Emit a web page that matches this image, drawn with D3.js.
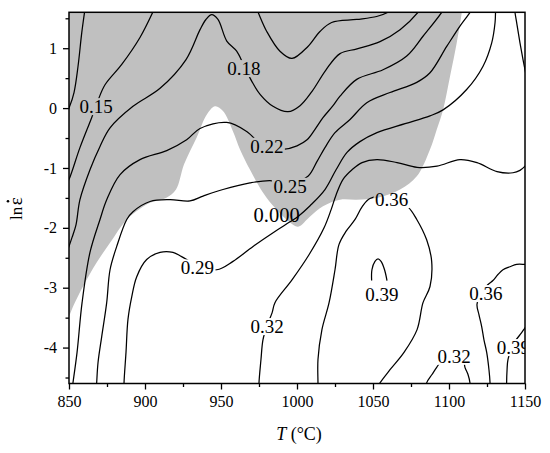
<!DOCTYPE html>
<html><head><meta charset="utf-8">
<script src="https://cdn.jsdelivr.net/npm/d3@7"></script>
<style>body{margin:0;background:#fff}</style>
</head><body>
<svg id="chart" width="550" height="453"></svg>
<script>
// ---- axis ticks ----
const xTicks = [850, 900, 950, 1000, 1050, 1100, 1150];
const xMinorTicks = [875, 925, 975, 1025, 1075, 1125];
const yTicks = [-4, -3, -2, -1, 0, 1];
const yMinorTicks = [-4.5, -3.5, -2.5, -1.5, -0.5, 0.5, 1.5];

// ---- instability region (grey), [T, ln strain rate] ----
const unstableRegion = [[848,1.8],[1109,1.8],[1108.4,1.6],[1105.1,1.09],[1100.7,0.53],[1096.1,-0.03],[1091.9,-0.36],[1087.5,-0.69],[1078.8,-1.14],[1067.8,-1.36],[1052.4,-1.50],[1039.3,-1.53],[1028.3,-1.53],[1017.1,-1.64],[1008.6,-1.81],[1000.7,-1.98],[995.4,-1.91],[986.6,-1.70],[977.6,-1.41],[969.1,-1.03],[962.5,-0.69],[957.9,-0.39],[951.3,-0.05],[946.1,0.03],[940.6,-0.11],[934,-0.49],[925.7,-0.94],[920.4,-1.36],[913.8,-1.50],[903.3,-1.58],[896.7,-1.68],[888,-1.86],[877,-2.25],[868.2,-2.58],[859.2,-2.98],[852.6,-3.32],[850,-3.48],[848,-3.55]];

// ---- efficiency contour lines, [T, ln strain rate] ----
const line012 = [[860.5,1.65],[858.4,1.26],[855.9,0.69],[853.3,0.26],[850.3,0.02],[849,-0.05]];
const line015 = [[906,1.65],[896.7,1.18],[884.7,0.73],[873.7,0.39],[869.1,0.13],[864.9,-0.16],[857.2,-0.66],[850,-1.19],[848.5,-1.25]];
const line015top = [[973.3,1.66],[974.4,1.6],[980.1,1.28],[988.8,0.95],[996.7,0.83],[1007.2,1.03],[1015.1,1.28],[1022.8,1.43],[1039.3,1.48],[1052.4,1.53],[1059.9,1.6],[1062,1.64]];
const line018 = [[848,-2.45],[850,-2.31],[852,-2.16],[854.6,-1.95],[857.2,-1.53],[863.8,-1.03],[870.4,-0.64],[877,-0.33],[892.1,0.03],[909.9,0.33],[927,0.81],[936.2,1.31],[940.1,1.48],[943.9,1.56],[948,1.48],[953.8,1.12],[960.3,0.95],[965.1,0.71],[970.2,0.45],[975.7,0.23],[984.2,0.03],[994.1,-0.06],[1002,0.04],[1009.9,0.28],[1019.1,0.64],[1028.3,0.91],[1039.5,0.99],[1054.6,1.11],[1067.8,1.31],[1079.6,1.6],[1081.6,1.68]];
const line022 = [[852,-4.70],[852.6,-4.59],[855.3,-4.08],[858.6,-3.25],[863.8,-2.41],[870.4,-1.86],[874.8,-1.53],[883.6,-1.11],[896.7,-0.86],[914.3,-0.71],[927.4,-0.53],[936.2,-0.34],[953.8,-0.24],[966.9,-0.39],[979,-0.66],[990.8,-0.69],[1000,-0.63],[1006.6,-0.53],[1012.5,-0.33],[1017.1,-0.16],[1023.7,0.04],[1028.3,0.2],[1039.3,0.48],[1056.6,0.64],[1072.2,0.87],[1082.9,1.2],[1095.2,1.6],[1097.4,1.70]];
const line025 = [[867.8,-4.74],[868.2,-4.59],[869.1,-4.25],[871.5,-3.82],[874.8,-3.25],[877,-2.70],[881.4,-2.31],[888,-1.86],[892.1,-1.73],[903.3,-1.56],[916.4,-1.53],[929.6,-1.55],[938.2,-1.47],[951.3,-1.36],[969.1,-1.25],[982.2,-1.21],[995.4,-1.26],[1007.2,-1.14],[1013.2,-0.89],[1018.4,-0.66],[1025,-0.41],[1034.9,-0.19],[1045.9,0.09],[1061.2,0.26],[1078.8,0.43],[1087.5,0.59],[1098.5,1.03],[1107.2,1.37],[1113.8,1.6],[1115.8,1.70]];
const line029 = [[886.2,-4.74],[886.2,-4.59],[887.5,-4.08],[888.8,-3.53],[891.3,-3.15],[894.5,-2.82],[901.1,-2.53],[909.9,-2.41],[918.4,-2.41],[924.1,-2.48],[934.9,-2.63],[947.2,-2.70],[957.9,-2.56],[971.1,-2.31],[985.5,-2.06],[995.4,-1.90],[1000.7,-1.81],[1008.6,-1.63],[1018.4,-1.36],[1025.7,-1.03],[1032.9,-0.74],[1041.4,-0.56],[1052.6,-0.41],[1071.1,-0.26],[1087.5,-0.13],[1096.1,-0.03],[1111.6,0.31],[1122.4,0.70],[1128.1,1.09],[1130.3,1.43],[1130.6,1.61],[1130.6,1.70]];
const line032 = [[975,-4.74],[975,-4.59],[976.3,-4.20],[977.6,-3.87],[980.3,-3.63],[983.6,-3.42],[985.5,-3.25],[996.7,-2.87],[1007.9,-2.45],[1017.8,-2.00],[1022.4,-1.70],[1025.7,-1.45],[1030.3,-1.19],[1036.2,-1.03],[1042.8,-0.91],[1052.6,-0.86],[1065.8,-0.91],[1079,-0.99],[1092.1,-0.97],[1107.2,-0.86],[1118.4,-0.91],[1131.6,-1.06],[1142.1,-1.08],[1146.7,-1.04],[1150,-0.97],[1152,-0.91]];
const line036 = [[1013.8,-4.74],[1013.8,-4.59],[1013.8,-4.20],[1016.4,-3.70],[1021.1,-3.25],[1025,-2.70],[1027.6,-2.28],[1032.2,-2.06],[1038.2,-1.86],[1042.8,-1.65],[1048,-1.51],[1061.2,-1.46],[1073,-1.65],[1078.8,-1.86],[1085.3,-2.20],[1088.6,-2.56],[1087.5,-2.98],[1082.9,-3.25],[1079,-3.70],[1070.4,-4.08],[1061.2,-4.37],[1054.6,-4.59],[1051.3,-4.74]];
const line039 = [[1049.1,-2.88],[1049.3,-2.70],[1051.3,-2.56],[1053.3,-2.52],[1055.3,-2.56],[1057.6,-2.70],[1059.2,-2.88]];
const line036r = [[1127,-4.74],[1127,-4.59],[1126.3,-4.37],[1124.8,-4.08],[1123,-3.87],[1121.5,-3.65],[1119.7,-3.45],[1118.4,-3.28],[1120.4,-3.12],[1125.5,-2.95],[1128.9,-2.88],[1132.2,-2.78],[1135.5,-2.70],[1140.1,-2.65],[1144.5,-2.61],[1150,-2.61],[1152,-2.61]];
const line032r = [[1085.3,-4.74],[1085.3,-4.59],[1088.8,-4.45],[1091.9,-4.33],[1097.4,-4.15],[1103.9,-4.07],[1109.2,-4.17],[1110.5,-4.33],[1112.5,-4.45],[1113.8,-4.59],[1114.1,-4.74]];
const line039r = [[1137.9,-4.74],[1137.9,-4.59],[1138.2,-4.37],[1138.8,-4.20],[1142.1,-3.95],[1147.8,-3.75],[1150,-3.67],[1152,-3.60]];
const lineTopRight = [[1143.1,1.70],[1143.4,1.60],[1144.7,1.40],[1146.7,1.09],[1148.7,0.81],[1150,0.64],[1151.3,0.48]];

const contourLines = [line012, line015, line015top, line018, line022, line025, line029, line032, line036, line039, line036r, line032r, line039r, lineTopRight];

// ---- contour labels: text and [T, ln strain rate] ----
const labelTexts = ["0.15", "0.18", "0.22", "0.25", "0.29", "0.32", "0.36", "0.39", "0.36", "0.32", "0.39"];
const labelPoints = [[867.8,0.025],[965.1,0.66],[980.1,-0.638],[995.4,-1.306],[934.5,-2.669],[980.3,-3.649],[1062.3,-1.528],[1055.9,-3.115],[1124.3,-3.098],[1103.3,-4.146],[1131.4,-4.0]];
const boundaryText = "0.000";
const boundaryPoint = [986.6,-1.787];

// ---- drawing ----
const W = 550, H = 453;
const FONT = "'Liberation Serif','Times New Roman',serif";
const svg = d3.select("#chart");
const x = d3.scaleLinear().domain([850, 1150]).range([69, 525]);
const y = d3.scaleLinear().domain([-4.6, 1.6]).range([383.5, 12.3]);

const defs = svg.append("defs");
defs.append("clipPath").attr("id", "plotClip").append("rect")
  .attr("x", x(850)).attr("y", y(1.6))
  .attr("width", x(1150) - x(850)).attr("height", y(-4.6) - y(1.6));
const mask = defs.append("mask").attr("id", "labelMask").attr("maskUnits", "userSpaceOnUse")
  .attr("x", 0).attr("y", 0).attr("width", W).attr("height", H);
mask.append("rect").attr("width", W).attr("height", H).attr("fill", "#fff");

const plot = svg.append("g").attr("clip-path", "url(#plotClip)");
const smooth = d3.line().x(d => x(d[0])).y(d => y(d[1])).curve(d3.curveCatmullRom.alpha(0.5));

plot.append("path").attr("d", smooth(unstableRegion) + "Z").attr("fill", "#c0c0c0");

const linesG = plot.append("g").attr("mask", "url(#labelMask)");
contourLines.forEach(c => {
  linesG.append("path").attr("d", smooth(c)).attr("fill", "none")
    .attr("stroke", "#000").attr("stroke-width", 1.25).attr("stroke-linejoin", "round");
});

const labelsG = plot.append("g").attr("font-family", FONT).attr("fill", "#000");
labelTexts.forEach((txt, i) => {
  const p = labelPoints[i];
  const anchor = i === labelTexts.length - 1 ? "start" : "middle";
  const t = labelsG.append("text").attr("x", x(p[0])).attr("y", y(p[1]))
    .attr("text-anchor", anchor).attr("dominant-baseline", "central")
    .attr("font-size", 19).text(txt);
  const b = t.node().getBBox();
  mask.append("rect").attr("x", b.x - 1.5).attr("y", y(p[1]) - 8.5)
    .attr("width", b.width + 3).attr("height", 17).attr("fill", "#000");
});
labelsG.append("text").attr("x", x(boundaryPoint[0])).attr("y", y(boundaryPoint[1]))
  .attr("text-anchor", "middle").attr("dominant-baseline", "central")
  .attr("font-size", 20.5).text(boundaryText);

// axes
function styleAxis(g) {
  g.select(".domain").remove();
  g.attr("font-family", FONT).attr("font-size", 16);
  g.selectAll(".tick line").attr("stroke", "#000").attr("stroke-width", 1.3);
  g.selectAll(".tick text").attr("fill", "#000");
}
svg.append("g").attr("transform", `translate(0,${y(-4.6)})`)
  .call(d3.axisBottom(x).tickValues(xTicks).tickSize(6).tickPadding(6).tickFormat(d => String(d)))
  .call(styleAxis);
svg.append("g").attr("transform", `translate(0,${y(-4.6)})`)
  .call(d3.axisBottom(x).tickValues(xMinorTicks).tickSize(3.5).tickFormat(""))
  .call(styleAxis);
svg.append("g").attr("transform", `translate(${x(850)},0)`)
  .call(d3.axisLeft(y).tickValues(yTicks).tickSize(6).tickPadding(6).tickFormat(d => String(d)))
  .call(styleAxis);
svg.append("g").attr("transform", `translate(${x(850)},0)`)
  .call(d3.axisLeft(y).tickValues(yMinorTicks).tickSize(3.5).tickFormat(""))
  .call(styleAxis);

// frame
svg.append("rect").attr("x", x(850)).attr("y", y(1.6))
  .attr("width", x(1150) - x(850)).attr("height", y(-4.6) - y(1.6))
  .attr("fill", "none").attr("stroke", "#000").attr("stroke-width", 1.5);

// axis titles
const xt = svg.append("text").attr("x", (x(850) + x(1150)) / 2 + 2).attr("y", 440)
  .attr("text-anchor", "middle").attr("font-family", FONT).attr("font-size", 18);
xt.append("tspan").attr("font-style", "italic").text("T");
xt.append("tspan").text(" (°C)");

const yTitle = svg.append("g").attr("transform", "translate(22,220) rotate(-90)");
const yt = yTitle.append("text").attr("x", 0).attr("y", 0)
  .attr("font-family", FONT).attr("fill", "#000");
yt.append("tspan").attr("font-size", 17).text("ln");
yt.append("tspan").attr("font-size", 19).attr("dx", 1.5).text("\u03B5");
const node = yt.node();
const epsStart = node.getStartPositionOfChar(2).x;
const epsWidth = node.getSubStringLength(2, 1);
yTitle.append("circle").attr("cx", epsStart + epsWidth / 2).attr("cy", -14).attr("r", 1.3).attr("fill", "#000");
</script>
</body></html>
